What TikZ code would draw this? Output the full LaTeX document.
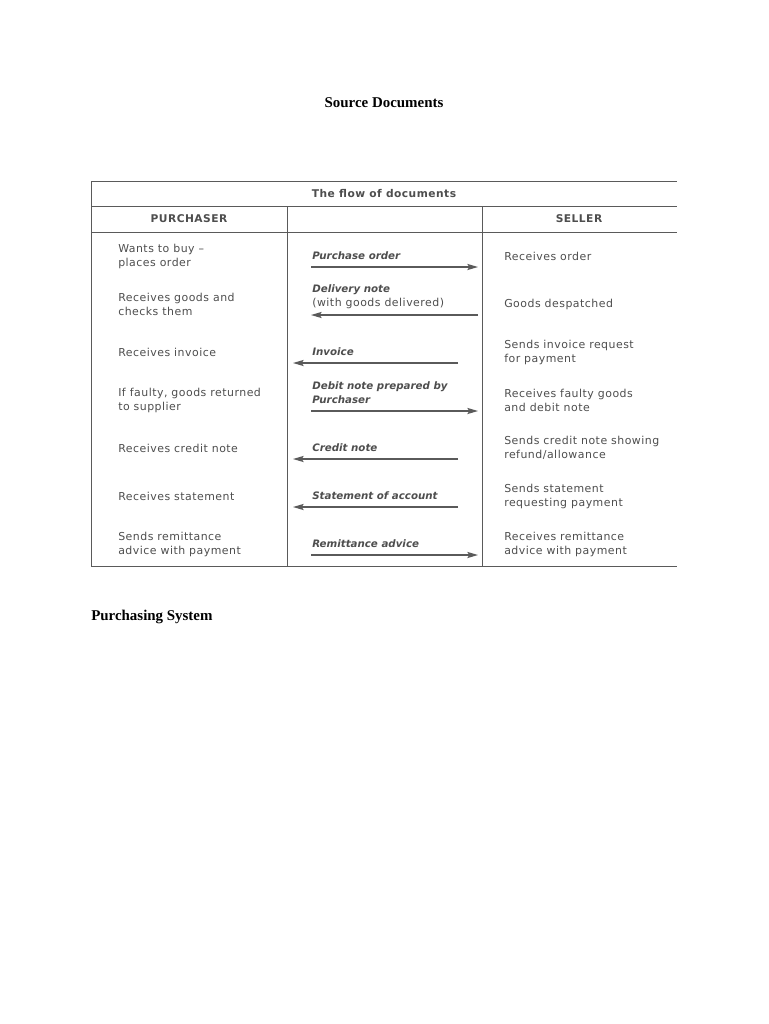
\documentclass[tikz,border=0pt]{standalone}
\usepackage{fontspec}
\setmainfont{Liberation Serif}
\newfontfamily\tabfont[LetterSpace=4.5]{DejaVu Sans}
\newfontfamily\docfont{DejaVu Sans}
\usetikzlibrary{arrows.meta,positioning}
\definecolor{rulegray}{HTML}{5A5A5A}
\definecolor{textgray}{HTML}{4E4E4E}

\begin{document}
\begin{tikzpicture}[x=0.75pt, y=-0.75pt,
        cell/.style={anchor=west, inner sep=0pt, align=left, text=textgray,
                font=\tabfont\fontsize{8.2}{10.5}\selectfont},
        doc/.style={cell, font=\docfont\bfseries\itshape\fontsize{7.7}{10.5}\selectfont},
        head/.style={inner sep=0pt, text=textgray, font=\tabfont\bfseries\fontsize{8}{10}\selectfont},
        rule/.style={draw=rulegray, line width=0.75pt},
        flow/.style={draw=rulegray, line width=1pt, -{Stealth[length=8pt,width=4.6pt,inset=1.5pt]}},
        heading/.style={inner sep=0pt, font=\bfseries\fontsize{11.2}{13}\selectfont}]

    \useasboundingbox (0,0) rectangle (768,1024);
    \fill[white] (0,0) rectangle (768,1024);

    % ---- HEADINGS ----
    \node[heading] (title) at (384,103) {Source Documents};
    \node[heading, anchor=west] (system) at (91,617) {Purchasing System};

    % ---- TABLE FRAME ----
    \draw[rule] (91,181) -- (677,181);
    \draw[rule] (91,206) -- (677,206);
    \draw[rule] (91,232) -- (677,232);
    \draw[rule] (91,566) -- (677,566);
    \draw[rule] (91,181) -- (91,566);
    \draw[rule] (287,206) -- (287,566);
    \draw[rule] (482,206) -- (482,566);

    \node[head] (flowhead) at (384,194) {The flow of documents};
    \node[head] (purchaser) at (189,219) {PURCHASER};
    \node[head] (seller) at (579,219) {SELLER};

    % ---- PURCHASER / SELLER ----
    \foreach \i/\y/\buy/\sell in {
            1/256/{Wants to buy –\\places order}/{Receives order},
            2/304/{Receives goods and\\checks them}/{Goods despatched},
            3/352/{Receives invoice}/{Sends invoice request\\for payment},
            4/400/{If faulty, goods returned\\to supplier}/{Receives faulty goods\\and debit note},
            5/448/{Receives credit note}/{Sends credit note showing\\refund/allowance},
            6/496/{Receives statement}/{Sends statement\\requesting payment},
            7/544/{Sends remittance\\advice with payment}/{Receives remittance\\advice with payment}} {
            \node[cell] (buy\i) at (118,\y) {\buy};
            \node[cell] (sell\i) at (504,\y) {\sell};
        }

    % ---- DOCUMENTS ----
    \foreach \i/\y/\ly/\from/\to/\docname in {
            1/256/256/311/478/{Purchase order},
            2/304/297/478/311/{Delivery note\\{\normalfont\tabfont\fontsize{8.2}{10.5}\selectfont (with goods delivered)}},
            3/352/352/458/293/{Invoice},
            4/400/393/311/478/{Debit note prepared by\\Purchaser},
            5/448/448/458/293/{Credit note},
            6/496/496/458/293/{Statement of account},
            7/544/544/311/478/{Remittance advice}} {
            \node[doc] (doc\i) at (312,\ly) {\docname};
            \coordinate (src\i) at (\from,\y+11);
            \coordinate (dst\i) at (\to,\y+11);
            \draw[flow] (src\i) -- (dst\i);
        }

\end{tikzpicture}
\end{document}
